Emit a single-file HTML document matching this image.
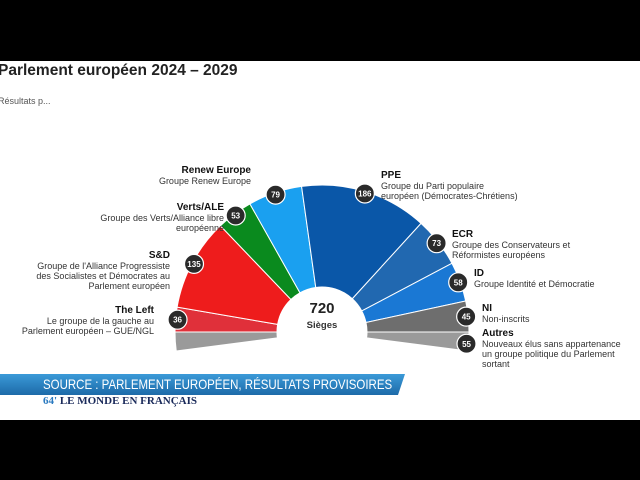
<!DOCTYPE html>
<html><head><meta charset="utf-8"><style>
body{margin:0;width:640px;height:480px;overflow:hidden;background:#000;font-family:"Liberation Sans",sans-serif}
#white{position:absolute;left:0;top:61px;width:640px;height:359px;background:#fff}
.t{position:absolute;font-size:9px;color:#333;line-height:10px;white-space:nowrap}
.t b{color:#111;font-size:10px}
.r{text-align:right}
</style></head><body>
<div id="white"></div>
<div style="position:absolute;left:-2px;top:62px;font-size:15.5px;font-weight:bold;color:#222">Parlement européen 2024 – 2029</div>
<div style="position:absolute;left:-2px;top:96px;font-size:9px;color:#555">Résultats p... </div>
<svg id="hemi" width="640" height="480" style="position:absolute;left:0;top:0"></svg>
<div class="t r" style="right:389px;top:165px"><b>Renew Europe</b><br>Groupe Renew Europe</div>
<div class="t r" style="right:416px;top:202px"><b>Verts/ALE</b><br>Groupe des Verts/Alliance libre<br>européenne</div>
<div class="t r" style="right:470px;top:250px"><b>S&amp;D</b><br>Groupe de l'Alliance Progressiste<br>des Socialistes et Démocrates au<br>Parlement européen</div>
<div class="t r" style="right:486px;top:305px"><b>The Left</b><br>Le groupe de la gauche au<br>Parlement européen – GUE/NGL</div>
<div class="t" style="left:381px;top:170px"><b>PPE</b><br>Groupe du Parti populaire<br>européen (Démocrates-Chrétiens)</div>
<div class="t" style="left:452px;top:229px"><b>ECR</b><br>Groupe des Conservateurs et<br>Réformistes européens</div>
<div class="t" style="left:474px;top:268px"><b>ID</b><br>Groupe Identité et Démocratie</div>
<div class="t" style="left:482px;top:303px"><b>NI</b><br>Non-inscrits</div>
<div class="t" style="left:482px;top:328px"><b>Autres</b><br>Nouveaux élus sans appartenance<br>un groupe politique du Parlement<br>sortant</div>
<div style="position:absolute;left:0;top:374px;width:640px;height:46px;">
<svg width="640" height="46" style="position:absolute;left:0;top:0"><defs><linearGradient id="bg" x1="0" y1="0" x2="0" y2="1"><stop offset="0" stop-color="#3b9ad8"/><stop offset="1" stop-color="#1d6aa8"/></linearGradient></defs><polygon points="0,0 405,0 398,21 0,21" fill="url(#bg)"/></svg>
<div style="position:absolute;left:43px;top:2px;font-size:14px;color:#fff;transform:scaleX(0.82);transform-origin:left;white-space:nowrap">SOURCE : PARLEMENT EUROPÉEN, RÉSULTATS PROVISOIRES</div>
<div style="position:absolute;left:43px;top:21px;font-family:'Liberation Serif',serif;font-weight:bold;font-size:11px;color:#1a2a5a;white-space:nowrap"><span style="color:#2a7ac0">64'</span> LE MONDE EN FRANÇAIS</div>
</div>
<script>
const groups=["The Left","S&D","Verts/ALE","Renew Europe","PPE","ECR","ID","NI"];
const seats=[36,135,53,79,186,73,58,45];
const others=[55];
const colors=["#e0303a","#ee1c1c","#0a8a1e","#1aa0f0","#0a57a8","#2168b0","#1a78d4","#6e6e6e"];
const svg=document.getElementById('hemi');const NS="http://www.w3.org/2000/svg";
const cx=322,cy=332,ri=45,ro=147;
const main=seats.reduce((a,b)=>a+b,0);
const degPer=180/main;
function pt(r,a){const t=a*Math.PI/180;return [cx+r*Math.cos(t),cy-r*Math.sin(t)];}
function wedge(a0,a1,fill,name){const p1=pt(ro,a0),p2=pt(ro,a1),p3=pt(ri,a1),p4=pt(ri,a0);
const large=Math.abs(a0-a1)>180?1:0;const sw=a0>a1?1:0;
const p=document.createElementNS(NS,'path');
p.setAttribute('d',`M${p1} A${ro},${ro} 0 ${large} ${sw} ${p2} L${p3} A${ri},${ri} 0 ${large} ${1-sw} ${p4}Z`);
p.setAttribute('fill',fill);p.setAttribute('stroke','#fff');p.setAttribute('stroke-width','1');


svg.appendChild(p);}
function badge(a,txt,name){const [x,y]=pt(ro-2,a);const g=document.createElementNS(NS,'g');


g.innerHTML=`<circle cx="${x}" cy="${y}" r="9.5" fill="#2a2a2a" stroke="#fff" stroke-width="1.2"/><text x="${x}" y="${y+3}" text-anchor="middle" font-size="8" font-weight="bold" fill="#fff" font-family="Liberation Sans">${txt}</text>`;
svg.appendChild(g);}
let a=180;const marks=[];
seats.forEach((s,i)=>{const a1=a-s*degPer;wedge(a,a1,colors[i],'segment-'+i);marks.push([(a+a1)/2,s,i]);a=a1;});
const oh=others[0]*degPer/2;
wedge(180+oh,180,"#9a9a9a",'segment-autres-left');
wedge(0,-oh,"#9a9a9a",'segment-autres-right');
marks.forEach(m=>badge(m[0],m[1],'badge-'+m[2]));
badge(-oh/1.6,others[0],'badge-autres');
const c=document.createElementNS(NS,'text');c.setAttribute('x',cx);c.setAttribute('y',cy-19);c.setAttribute('text-anchor','middle');c.setAttribute('font-size','15');c.setAttribute('font-weight','bold');c.setAttribute('fill','#222');c.textContent=main+others[0];


svg.appendChild(c);
const s=document.createElementNS(NS,'text');s.setAttribute('x',cx);s.setAttribute('y',cy-4);s.setAttribute('text-anchor','middle');s.setAttribute('font-size','9.5');s.setAttribute('font-weight','bold');s.setAttribute('fill','#333');s.textContent="Sièges";


svg.appendChild(s);
</script>
</body></html>
